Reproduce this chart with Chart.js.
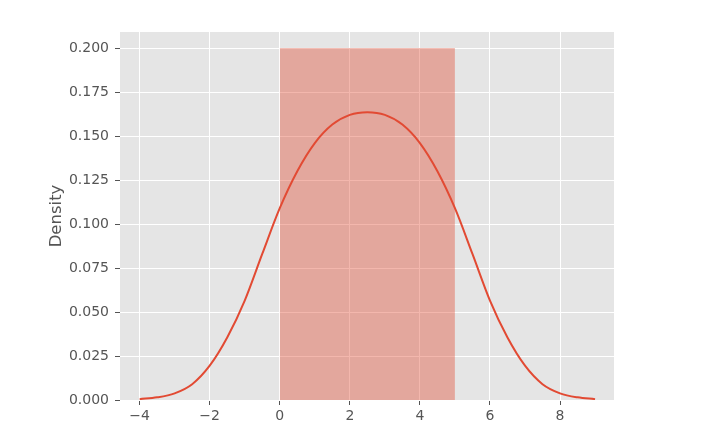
<!DOCTYPE html>
<html>
<head>
<meta charset="utf-8">
<script src="https://cdn.jsdelivr.net/npm/chart.js@4"></script>
<style>
  html, body { margin: 0; padding: 0; background: #fff; }
  #wrap { width: 726px; height: 438px; }
</style>
</head>
<body>
<div id="wrap"><canvas id="chartCanvas" width="726" height="438"></canvas></div>
<script>
// histogram: one bin from 0 to 5
const binEdges = [0, 5];
const binDensity = [0.2];

// kde curve
const kdeX = [-4, -3.5, -3, -2.5, -2, -1.5, -1, -0.5, 0, 0.5, 1, 1.5, 2, 2.5,
  3, 3.5, 4, 4.5, 5, 5.5, 6, 6.5, 7, 7.5, 8, 8.5, 9];
const kdeY = [0.0005, 0.0015, 0.0038, 0.0090, 0.0195, 0.0355, 0.0565, 0.0830, 0.1090,
  0.1300, 0.1460, 0.1565, 0.1620, 0.1635, 0.1620, 0.1565, 0.1460, 0.1300, 0.1090,
  0.0830, 0.0565, 0.0355, 0.0195, 0.0090, 0.0038, 0.0015, 0.0005];

const xTicks = [-4, -2, 0, 2, 4, 6, 8];
const yTicks = [0, 0.025, 0.05, 0.075, 0.1, 0.125, 0.15, 0.175, 0.2];

// --- plugin: grey plot background ---
const plotBg = {
  id: "plotBg",
  beforeDraw(chart) {
    const { ctx, chartArea: a } = chart;
    ctx.save();
    ctx.fillStyle = "#E5E5E5";
    ctx.fillRect(a.left, a.top, a.right - a.left, a.bottom - a.top);
    ctx.restore();
  }
};

const histPoints = [
  { x: binEdges[0], y: binDensity[0] },
  { x: binEdges[1], y: binDensity[0] }
];
const kdePoints = kdeX.map((x, i) => ({ x, y: kdeY[i] }));

const tickFont = { family: "DejaVu Sans", size: 14 };

new Chart(document.getElementById("chartCanvas"), {
  type: "line",
  data: {
    datasets: [
      {
        label: "kde",
        data: kdePoints,
        borderColor: "#E24A33",
        borderWidth: 2,
        pointRadius: 0,
        cubicInterpolationMode: "monotone",
        fill: false,
        order: 1
      },
      {
        label: "hist",
        data: histPoints,
        borderColor: "rgba(238,238,238,0.4)",
        borderWidth: 0.5,
        backgroundColor: "rgba(226,74,51,0.4)",
        pointRadius: 0,
        fill: "origin",
        tension: 0,
        order: 2
      }
    ]
  },
  options: {
    responsive: false,
    animation: false,
    layout: { padding: { left: 47, right: 112, top: 32, bottom: 0 } },
    plugins: {
      legend: { display: false },
      tooltip: { enabled: false }
    },
    scales: {
      x: {
        type: "linear",
        min: -4.56,
        max: 9.54,
        afterBuildTicks: s => { s.ticks = xTicks.map(v => ({ value: v })); },
        afterFit: s => { s.height = 38; },
        grid: { color: "#FFFFFF", lineWidth: 1, tickColor: "#555555", tickLength: 5 },
        border: { display: false },
        ticks: {
          color: "#555555",
          font: tickFont,
          padding: 3,
          maxRotation: 0,
          callback: v => (v < 0 ? "\u2212" + Math.abs(v) : String(v))
        }
      },
      y: {
        type: "linear",
        min: 0,
        max: 0.2091,
        afterBuildTicks: s => { s.ticks = yTicks.map(v => ({ value: v })); },
        afterFit: s => { s.width = 73; },
        grid: { color: "#FFFFFF", lineWidth: 1, tickColor: "#555555", tickLength: 5 },
        border: { display: false },
        ticks: {
          color: "#555555",
          font: tickFont,
          padding: 6,
          callback: v => v.toFixed(3)
        },
        title: {
          display: true,
          text: "Density",
          color: "#555555",
          font: { family: "DejaVu Sans", size: 16.5 },
          padding: 0
        }
      }
    }
  },
  plugins: [plotBg]
});
</script>
</body>
</html>
